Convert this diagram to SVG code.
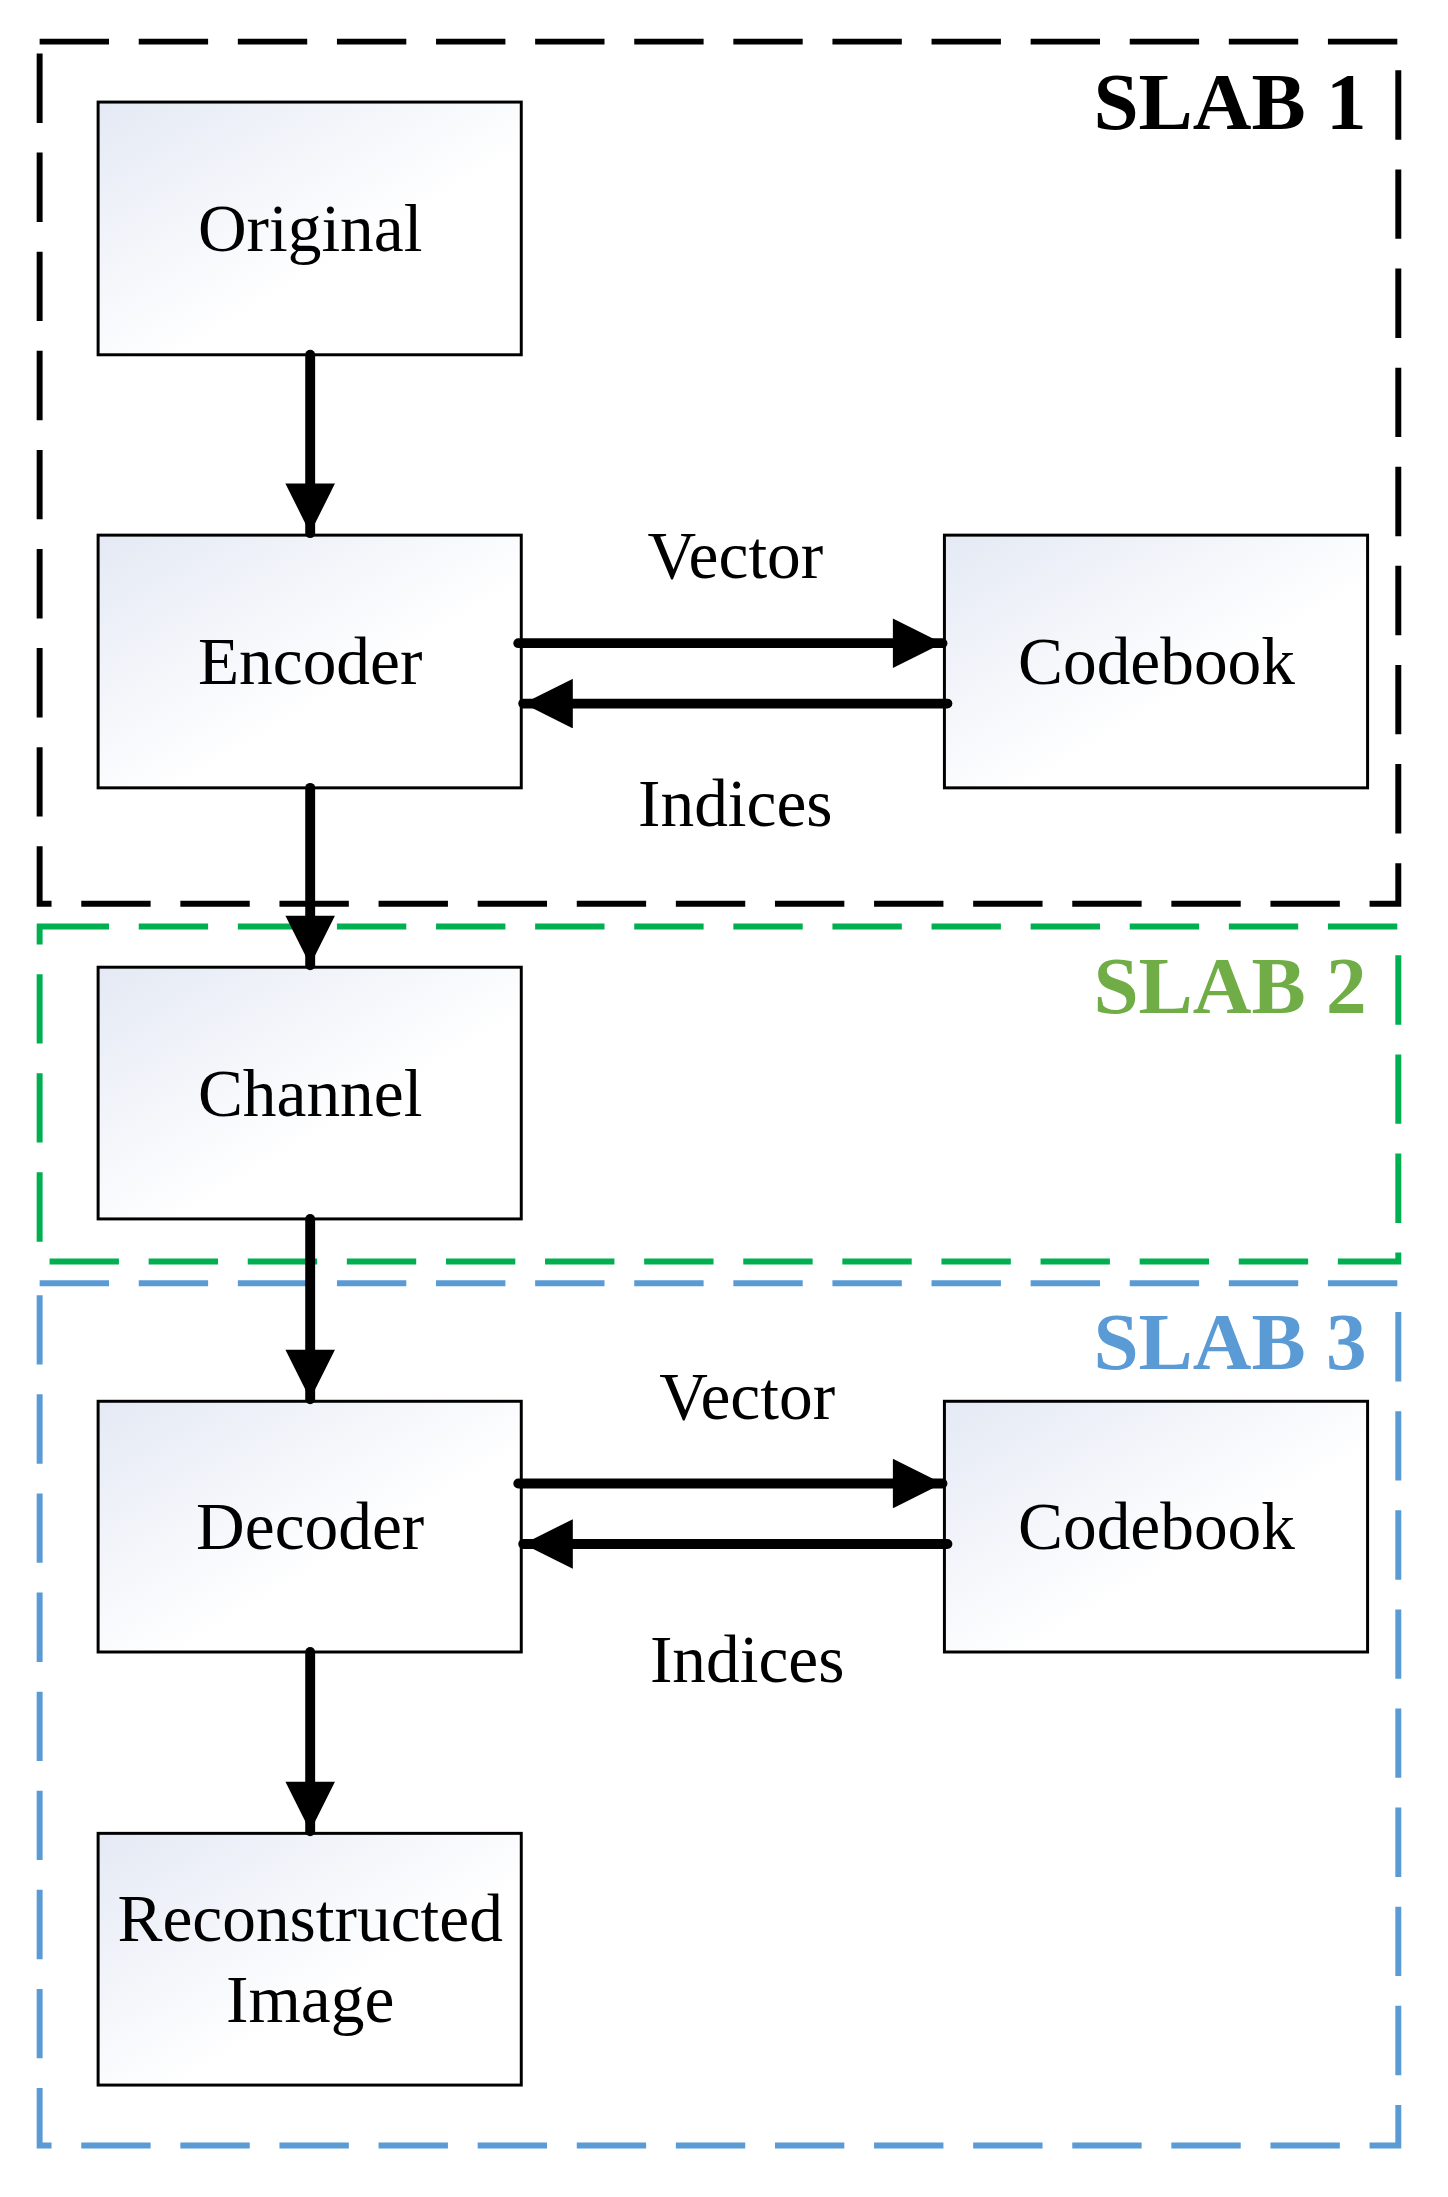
<svg xmlns="http://www.w3.org/2000/svg" width="1448" height="2197" viewBox="0 0 1448 2197">
<defs>
<linearGradient id="g" x1="0" y1="0" x2="1" y2="1"><stop offset="0" stop-color="#E4E9F4"/><stop offset="0.6" stop-color="#FFFFFF"/></linearGradient>
<marker id="ah" viewBox="0 0 10 10" refX="10" refY="5" markerWidth="7.5" markerHeight="5" markerUnits="strokeWidth" orient="auto"><path d="M0,0 L10,5 L0,10 z" fill="#000"/></marker>
<style>
.box{fill:url(#g);stroke:#000;stroke-width:3}
.t{font-family:"Liberation Serif",serif;font-size:68px;text-anchor:middle;fill:#000}
.s{font-family:"Liberation Serif",serif;font-size:82px;font-weight:bold;text-anchor:end}
.slab{fill:none;stroke-width:6;stroke-dasharray:70 30}
.c{stroke:#000;stroke-width:10;fill:none;stroke-linecap:round;marker-end:url(#ah)}
</style>
</defs>
<rect width="1448" height="2197" fill="#fff"/>
<g transform="scale(0.991)">
<g id="slab1"><rect class="slab" x="40" y="42" width="1371" height="870" stroke="#000"/><text class="s" x="1379" y="130" fill="#000">SLAB 1</text></g>
<g id="slab2"><rect class="slab" x="40" y="935" width="1371" height="338" stroke="#00B050"/><text class="s" x="1379" y="1022" fill="#70AD47">SLAB 2</text></g>
<g id="slab3"><rect class="slab" x="40" y="1295" width="1371" height="870" stroke="#5B9BD5"/><text class="s" x="1379" y="1381" fill="#5B9BD5">SLAB 3</text></g>
<g id="original"><rect class="box" x="99" y="103" width="427" height="255"/><text class="t" x="313" y="253">Original</text></g>
<g id="encoder"><rect class="box" x="99" y="540" width="427" height="255"/><text class="t" x="313" y="690">Encoder</text></g>
<g id="codebook1"><rect class="box" x="953" y="540" width="427" height="255"/><text class="t" x="1167" y="690">Codebook</text></g>
<g id="channel"><rect class="box" x="99" y="976" width="427" height="254"/><text class="t" x="313" y="1126">Channel</text></g>
<g id="decoder"><rect class="box" x="99" y="1414" width="427" height="253"/><text class="t" x="313" y="1563">Decoder</text></g>
<g id="codebook2"><rect class="box" x="953" y="1414" width="427" height="253"/><text class="t" x="1167" y="1563">Codebook</text></g>
<g id="recon"><rect class="box" x="99" y="1850" width="427" height="254"/><text class="t" x="313" y="1959">Reconstructed</text><text class="t" x="313" y="2040">Image</text></g>
<g id="connectors">
<line class="c" x1="313" y1="358" x2="313" y2="538"/>
<line class="c" x1="313" y1="795" x2="313" y2="974"/>
<line class="c" x1="313" y1="1230" x2="313" y2="1412"/>
<line class="c" x1="313" y1="1667" x2="313" y2="1848"/>
<line class="c" x1="523" y1="649" x2="951" y2="649"/>
<line class="c" x1="956" y1="710" x2="528" y2="710"/>
<line class="c" x1="523" y1="1497" x2="951" y2="1497"/>
<line class="c" x1="956" y1="1558" x2="528" y2="1558"/>
<text class="t" x="742" y="583">Vector</text>
<text class="t" x="742" y="834">Indices</text>
<text class="t" x="754" y="1432">Vector</text>
<text class="t" x="754" y="1697">Indices</text>
</g>
</g>
</svg>
